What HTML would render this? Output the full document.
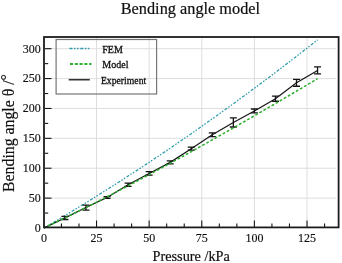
<!DOCTYPE html>
<html><head><meta charset="utf-8"><style>
html,body{margin:0;padding:0;background:#fff;}
svg{display:block;}
text{font-family:"Liberation Serif","Times New Roman",serif;fill:#111;stroke:#111;stroke-width:0.3px;}
.tk{font-size:12px;stroke-width:0.15px;}
.lg{font-size:10px;stroke-width:0.3px;}
.ti{font-size:16.3px;stroke-width:0.2px;}
.al{font-size:14.3px;stroke-width:0.2px;}
.yl{font-size:15.8px;stroke-width:0.2px;}
</style></head><body>
<svg width="342" height="263" viewBox="0 0 342 263">
<line x1="96.53" y1="38" x2="96.53" y2="227" stroke="#dedede" stroke-width="1"/>
<line x1="149.15" y1="38" x2="149.15" y2="227" stroke="#dedede" stroke-width="1"/>
<line x1="201.78" y1="38" x2="201.78" y2="227" stroke="#dedede" stroke-width="1"/>
<line x1="254.40" y1="38" x2="254.40" y2="227" stroke="#dedede" stroke-width="1"/>
<line x1="307.02" y1="38" x2="307.02" y2="227" stroke="#dedede" stroke-width="1"/>
<line x1="45" y1="198.12" x2="336.3" y2="198.12" stroke="#dedede" stroke-width="1"/>
<line x1="45" y1="168.23" x2="336.3" y2="168.23" stroke="#dedede" stroke-width="1"/>
<line x1="45" y1="138.34" x2="336.3" y2="138.34" stroke="#dedede" stroke-width="1"/>
<line x1="45" y1="108.46" x2="336.3" y2="108.46" stroke="#dedede" stroke-width="1"/>
<line x1="45" y1="78.57" x2="336.3" y2="78.57" stroke="#dedede" stroke-width="1"/>
<line x1="45" y1="48.69" x2="336.3" y2="48.69" stroke="#dedede" stroke-width="1"/>
<rect x="56.1" y="39.5" width="100.5" height="54.5" fill="none" stroke="#777" stroke-width="1.2"/>
<polyline points="43.90,228.00 44.95,227.38 46.00,226.77 47.06,226.15 48.11,225.53 49.16,224.91 50.21,224.29 51.27,223.67 52.32,223.05 53.37,222.43 54.42,221.80 55.48,221.18 56.53,220.55 57.58,219.93 58.63,219.30 59.69,218.67 60.74,218.04 61.79,217.41 62.84,216.78 63.90,216.15 64.95,215.52 66.00,214.89 67.06,214.26 68.11,213.62 69.16,212.99 70.21,212.35 71.27,211.71 72.32,211.08 73.37,210.44 74.42,209.80 75.47,209.16 76.53,208.52 77.58,207.87 78.63,207.23 79.69,206.59 80.74,205.94 81.79,205.30 82.84,204.65 83.89,204.01 84.95,203.36 86.00,202.71 87.05,202.06 88.10,201.41 89.16,200.76 90.21,200.11 91.26,199.46 92.31,198.80 93.37,198.15 94.42,197.49 95.47,196.84 96.53,196.18 97.58,195.52 98.63,194.86 99.68,194.20 100.73,193.54 101.79,192.88 102.84,192.22 103.89,191.56 104.94,190.90 106.00,190.23 107.05,189.57 108.10,188.90 109.16,188.23 110.21,187.57 111.26,186.90 112.31,186.23 113.37,185.56 114.42,184.89 115.47,184.22 116.52,183.54 117.57,182.87 118.63,182.20 119.68,181.52 120.73,180.85 121.78,180.17 122.84,179.49 123.89,178.81 124.94,178.13 126.00,177.45 127.05,176.77 128.10,176.09 129.15,175.41 130.20,174.73 131.26,174.04 132.31,173.36 133.36,172.67 134.41,171.98 135.47,171.30 136.52,170.61 137.57,169.92 138.62,169.23 139.68,168.54 140.73,167.85 141.78,167.15 142.84,166.46 143.89,165.77 144.94,165.07 145.99,164.38 147.04,163.68 148.10,162.98 149.15,162.28 150.20,161.58 151.25,160.88 152.31,160.18 153.36,159.48 154.41,158.78 155.47,158.08 156.52,157.37 157.57,156.67 158.62,155.96 159.68,155.25 160.73,154.55 161.78,153.84 162.83,153.13 163.88,152.42 164.94,151.71 165.99,151.00 167.04,150.28 168.09,149.57 169.15,148.86 170.20,148.14 171.25,147.43 172.31,146.71 173.36,145.99 174.41,145.27 175.46,144.56 176.52,143.84 177.57,143.11 178.62,142.39 179.67,141.67 180.72,140.95 181.78,140.22 182.83,139.50 183.88,138.77 184.94,138.05 185.99,137.32 187.04,136.59 188.09,135.86 189.15,135.13 190.20,134.40 191.25,133.67 192.30,132.94 193.36,132.20 194.41,131.47 195.46,130.74 196.51,130.00 197.56,129.26 198.62,128.53 199.67,127.79 200.72,127.05 201.78,126.31 202.83,125.57 203.88,124.83 204.93,124.08 205.99,123.34 207.04,122.60 208.09,121.85 209.14,121.11 210.19,120.36 211.25,119.61 212.30,118.86 213.35,118.12 214.41,117.37 215.46,116.62 216.51,115.86 217.56,115.11 218.62,114.36 219.67,113.60 220.72,112.85 221.77,112.09 222.83,111.34 223.88,110.58 224.93,109.82 225.98,109.06 227.03,108.30 228.09,107.54 229.14,106.78 230.19,106.02 231.25,105.26 232.30,104.49 233.35,103.73 234.40,102.96 235.46,102.20 236.51,101.43 237.56,100.66 238.61,99.89 239.66,99.12 240.72,98.35 241.77,97.58 242.82,96.81 243.88,96.03 244.93,95.26 245.98,94.49 247.03,93.71 248.09,92.93 249.14,92.16 250.19,91.38 251.24,90.60 252.30,89.82 253.35,89.04 254.40,88.26 255.45,87.48 256.50,86.69 257.56,85.91 258.61,85.12 259.66,84.34 260.71,83.55 261.77,82.76 262.82,81.98 263.87,81.19 264.93,80.40 265.98,79.61 267.03,78.82 268.08,78.02 269.13,77.23 270.19,76.44 271.24,75.64 272.29,74.85 273.34,74.05 274.40,73.25 275.45,72.46 276.50,71.66 277.56,70.86 278.61,70.06 279.66,69.26 280.71,68.45 281.76,67.65 282.82,66.85 283.87,66.04 284.92,65.24 285.97,64.43 287.03,63.62 288.08,62.82 289.13,62.01 290.19,61.20 291.24,60.39 292.29,59.57 293.34,58.76 294.39,57.95 295.45,57.14 296.50,56.32 297.55,55.51 298.60,54.69 299.66,53.87 300.71,53.05 301.76,52.24 302.81,51.42 303.87,50.60 304.92,49.77 305.97,48.95 307.02,48.13 308.08,47.31 309.13,46.48 310.18,45.66 311.23,44.83 312.29,44.00 313.34,43.17 314.39,42.35 315.44,41.52 316.50,40.69 317.55,39.85" fill="none" stroke="#2a9aaa" stroke-width="1.25" stroke-dasharray="3 1.5 1.5 1.5 1.5 1.8"/>
<polyline points="43.90,228.00 64.95,217.90 86.00,207.56 107.05,197.52 128.10,184.67 149.15,173.43 170.20,162.37 191.25,148.69 212.30,134.70 233.35,122.45 254.40,110.91 275.45,98.66 296.50,82.76 317.55,70.45" fill="none" stroke="#151515" stroke-width="1.2"/>
<path d="M64.95 216.29V219.51M61.45 216.29h7M61.45 219.51h7" stroke="#151515" stroke-width="1.3" fill="none"/>
<path d="M86.00 205.05V210.07M82.50 205.05h7M82.50 210.07h7" stroke="#151515" stroke-width="1.3" fill="none"/>
<path d="M107.05 196.62V198.41M103.55 196.62h7M103.55 198.41h7" stroke="#151515" stroke-width="1.3" fill="none"/>
<path d="M128.10 183.05V186.28M124.60 183.05h7M124.60 186.28h7" stroke="#151515" stroke-width="1.3" fill="none"/>
<path d="M149.15 171.64V175.22M145.65 171.64h7M145.65 175.22h7" stroke="#151515" stroke-width="1.3" fill="none"/>
<path d="M170.20 160.82V163.93M166.70 160.82h7M166.70 163.93h7" stroke="#151515" stroke-width="1.3" fill="none"/>
<path d="M191.25 147.19V150.18M187.75 147.19h7M187.75 150.18h7" stroke="#151515" stroke-width="1.3" fill="none"/>
<path d="M212.30 132.79V136.61M208.80 132.79h7M208.80 136.61h7" stroke="#151515" stroke-width="1.3" fill="none"/>
<path d="M233.35 117.90V126.99M229.85 117.90h7M229.85 126.99h7" stroke="#151515" stroke-width="1.3" fill="none"/>
<path d="M254.40 109.00V112.82M250.90 109.00h7M250.90 112.82h7" stroke="#151515" stroke-width="1.3" fill="none"/>
<path d="M275.45 96.09V101.23M271.95 96.09h7M271.95 101.23h7" stroke="#151515" stroke-width="1.3" fill="none"/>
<path d="M296.50 79.29V86.23M293.00 79.29h7M293.00 86.23h7" stroke="#151515" stroke-width="1.3" fill="none"/>
<path d="M317.55 66.92V73.97M314.05 66.92h7M314.05 73.97h7" stroke="#151515" stroke-width="1.3" fill="none"/>
<polyline points="43.90,228.00 44.95,227.50 46.00,227.00 47.06,226.50 48.11,226.00 49.16,225.49 50.21,224.99 51.27,224.49 52.32,223.98 53.37,223.48 54.42,222.97 55.48,222.46 56.53,221.95 57.58,221.45 58.63,220.94 59.69,220.43 60.74,219.91 61.79,219.40 62.84,218.89 63.90,218.38 64.95,217.86 66.00,217.35 67.06,216.84 68.11,216.32 69.16,215.80 70.21,215.29 71.27,214.77 72.32,214.25 73.37,213.73 74.42,213.21 75.47,212.69 76.53,212.17 77.58,211.65 78.63,211.12 79.69,210.60 80.74,210.07 81.79,209.55 82.84,209.02 83.89,208.50 84.95,207.97 86.00,207.44 87.05,206.92 88.10,206.39 89.16,205.86 90.21,205.33 91.26,204.80 92.31,204.26 93.37,203.73 94.42,203.20 95.47,202.67 96.53,202.13 97.58,201.60 98.63,201.06 99.68,200.53 100.73,199.99 101.79,199.45 102.84,198.91 103.89,198.37 104.94,197.84 106.00,197.30 107.05,196.75 108.10,196.21 109.16,195.67 110.21,195.13 111.26,194.59 112.31,194.04 113.37,193.50 114.42,192.95 115.47,192.41 116.52,191.86 117.57,191.31 118.63,190.77 119.68,190.22 120.73,189.67 121.78,189.12 122.84,188.57 123.89,188.02 124.94,187.47 126.00,186.92 127.05,186.37 128.10,185.81 129.15,185.26 130.20,184.71 131.26,184.15 132.31,183.60 133.36,183.04 134.41,182.48 135.47,181.93 136.52,181.37 137.57,180.81 138.62,180.25 139.68,179.69 140.73,179.13 141.78,178.57 142.84,178.01 143.89,177.45 144.94,176.89 145.99,176.33 147.04,175.76 148.10,175.20 149.15,174.64 150.20,174.07 151.25,173.50 152.31,172.94 153.36,172.37 154.41,171.81 155.47,171.24 156.52,170.67 157.57,170.10 158.62,169.53 159.68,168.96 160.73,168.39 161.78,167.82 162.83,167.25 163.88,166.68 164.94,166.11 165.99,165.53 167.04,164.96 168.09,164.39 169.15,163.81 170.20,163.24 171.25,162.66 172.31,162.09 173.36,161.51 174.41,160.93 175.46,160.36 176.52,159.78 177.57,159.20 178.62,158.62 179.67,158.04 180.72,157.46 181.78,156.88 182.83,156.30 183.88,155.72 184.94,155.14 185.99,154.55 187.04,153.97 188.09,153.39 189.15,152.80 190.20,152.22 191.25,151.64 192.30,151.05 193.36,150.46 194.41,149.88 195.46,149.29 196.51,148.70 197.56,148.12 198.62,147.53 199.67,146.94 200.72,146.35 201.78,145.76 202.83,145.17 203.88,144.58 204.93,143.99 205.99,143.40 207.04,142.81 208.09,142.22 209.14,141.63 210.19,141.03 211.25,140.44 212.30,139.85 213.35,139.25 214.41,138.66 215.46,138.06 216.51,137.47 217.56,136.87 218.62,136.28 219.67,135.68 220.72,135.08 221.77,134.48 222.83,133.89 223.88,133.29 224.93,132.69 225.98,132.09 227.03,131.49 228.09,130.89 229.14,130.29 230.19,129.69 231.25,129.09 232.30,128.49 233.35,127.89 234.40,127.28 235.46,126.68 236.51,126.08 237.56,125.47 238.61,124.87 239.66,124.27 240.72,123.66 241.77,123.06 242.82,122.45 243.88,121.85 244.93,121.24 245.98,120.63 247.03,120.03 248.09,119.42 249.14,118.81 250.19,118.20 251.24,117.60 252.30,116.99 253.35,116.38 254.40,115.77 255.45,115.16 256.50,114.55 257.56,113.94 258.61,113.33 259.66,112.72 260.71,112.11 261.77,111.50 262.82,110.88 263.87,110.27 264.93,109.66 265.98,109.05 267.03,108.43 268.08,107.82 269.13,107.21 270.19,106.59 271.24,105.98 272.29,105.36 273.34,104.75 274.40,104.13 275.45,103.52 276.50,102.90 277.56,102.28 278.61,101.67 279.66,101.05 280.71,100.43 281.76,99.81 282.82,99.20 283.87,98.58 284.92,97.96 285.97,97.34 287.03,96.72 288.08,96.10 289.13,95.48 290.19,94.86 291.24,94.24 292.29,93.62 293.34,93.00 294.39,92.38 295.45,91.76 296.50,91.14 297.55,90.52 298.60,89.89 299.66,89.27 300.71,88.65 301.76,88.03 302.81,87.40 303.87,86.78 304.92,86.16 305.97,85.53 307.02,84.91 308.08,84.28 309.13,83.66 310.18,83.04 311.23,82.41 312.29,81.79 313.34,81.16 314.39,80.53 315.44,79.91 316.50,79.28 317.55,78.66" fill="none" stroke="#2db02d" stroke-width="1.5" stroke-dasharray="2.8 1.9"/>
<line x1="69.5" y1="48.5" x2="91" y2="48.5" stroke="#2a9aaa" stroke-width="1.4" stroke-dasharray="3 1.5 1.5 1.5 1.5 1.8"/>
<line x1="70" y1="64" x2="91.5" y2="64" stroke="#2db02d" stroke-width="1.8" stroke-dasharray="3 1.8"/>
<line x1="68.7" y1="79.7" x2="89.8" y2="79.7" stroke="#333" stroke-width="1.6"/>
<text x="102.3" y="52.8" class="lg">FEM</text>
<text x="102.3" y="67.8" class="lg">Model</text>
<text x="100.9" y="83.5" class="lg" textLength="45.3" lengthAdjust="spacingAndGlyphs">Experiment</text>
<line x1="61.44" y1="227" x2="61.44" y2="223.5" stroke="#151515" stroke-width="1.1"/>
<line x1="78.98" y1="227" x2="78.98" y2="223.5" stroke="#151515" stroke-width="1.1"/>
<line x1="96.53" y1="227" x2="96.53" y2="220.5" stroke="#151515" stroke-width="1.1"/>
<line x1="114.07" y1="227" x2="114.07" y2="223.5" stroke="#151515" stroke-width="1.1"/>
<line x1="131.61" y1="227" x2="131.61" y2="223.5" stroke="#151515" stroke-width="1.1"/>
<line x1="149.15" y1="227" x2="149.15" y2="220.5" stroke="#151515" stroke-width="1.1"/>
<line x1="166.69" y1="227" x2="166.69" y2="223.5" stroke="#151515" stroke-width="1.1"/>
<line x1="184.23" y1="227" x2="184.23" y2="223.5" stroke="#151515" stroke-width="1.1"/>
<line x1="201.78" y1="227" x2="201.78" y2="220.5" stroke="#151515" stroke-width="1.1"/>
<line x1="219.32" y1="227" x2="219.32" y2="223.5" stroke="#151515" stroke-width="1.1"/>
<line x1="236.86" y1="227" x2="236.86" y2="223.5" stroke="#151515" stroke-width="1.1"/>
<line x1="254.40" y1="227" x2="254.40" y2="220.5" stroke="#151515" stroke-width="1.1"/>
<line x1="271.94" y1="227" x2="271.94" y2="223.5" stroke="#151515" stroke-width="1.1"/>
<line x1="289.48" y1="227" x2="289.48" y2="223.5" stroke="#151515" stroke-width="1.1"/>
<line x1="307.02" y1="227" x2="307.02" y2="220.5" stroke="#151515" stroke-width="1.1"/>
<line x1="324.57" y1="227" x2="324.57" y2="223.5" stroke="#151515" stroke-width="1.1"/>
<line x1="45" y1="213.06" x2="48.2" y2="213.06" stroke="#151515" stroke-width="1.1"/>
<line x1="45" y1="198.12" x2="51.5" y2="198.12" stroke="#151515" stroke-width="1.1"/>
<line x1="45" y1="183.17" x2="48.2" y2="183.17" stroke="#151515" stroke-width="1.1"/>
<line x1="45" y1="168.23" x2="51.5" y2="168.23" stroke="#151515" stroke-width="1.1"/>
<line x1="45" y1="153.29" x2="48.2" y2="153.29" stroke="#151515" stroke-width="1.1"/>
<line x1="45" y1="138.34" x2="51.5" y2="138.34" stroke="#151515" stroke-width="1.1"/>
<line x1="45" y1="123.40" x2="48.2" y2="123.40" stroke="#151515" stroke-width="1.1"/>
<line x1="45" y1="108.46" x2="51.5" y2="108.46" stroke="#151515" stroke-width="1.1"/>
<line x1="45" y1="93.52" x2="48.2" y2="93.52" stroke="#151515" stroke-width="1.1"/>
<line x1="45" y1="78.57" x2="51.5" y2="78.57" stroke="#151515" stroke-width="1.1"/>
<line x1="45" y1="63.63" x2="48.2" y2="63.63" stroke="#151515" stroke-width="1.1"/>
<line x1="45" y1="48.69" x2="51.5" y2="48.69" stroke="#151515" stroke-width="1.1"/>
<rect x="44" y="37" width="294.6" height="190.4" fill="none" stroke="#1c1c1c" stroke-width="1.8"/>
<text transform="translate(40.8,231.90) scale(1,1.1)" class="tk" text-anchor="end">0</text>
<text transform="translate(40.8,202.02) scale(1,1.1)" class="tk" text-anchor="end">50</text>
<text transform="translate(40.8,172.13) scale(1,1.1)" class="tk" text-anchor="end">100</text>
<text transform="translate(40.8,142.25) scale(1,1.1)" class="tk" text-anchor="end">150</text>
<text transform="translate(40.8,112.36) scale(1,1.1)" class="tk" text-anchor="end">200</text>
<text transform="translate(40.8,82.47) scale(1,1.1)" class="tk" text-anchor="end">250</text>
<text transform="translate(40.8,52.59) scale(1,1.1)" class="tk" text-anchor="end">300</text>
<text transform="translate(43.90,242.1) scale(1,1.1)" class="tk" text-anchor="middle">0</text>
<text transform="translate(96.53,242.1) scale(1,1.1)" class="tk" text-anchor="middle">25</text>
<text transform="translate(149.15,242.1) scale(1,1.1)" class="tk" text-anchor="middle">50</text>
<text transform="translate(201.78,242.1) scale(1,1.1)" class="tk" text-anchor="middle">75</text>
<text transform="translate(254.40,242.1) scale(1,1.1)" class="tk" text-anchor="middle">100</text>
<text transform="translate(307.02,242.1) scale(1,1.1)" class="tk" text-anchor="middle">125</text>
<text transform="translate(190.4,14.4) scale(1,1.05)" class="ti" text-anchor="middle">Bending angle model</text>
<text x="191.2" y="261" class="al" text-anchor="middle">Pressure /kPa</text>
<text transform="translate(14,133) rotate(-90)" class="yl" text-anchor="middle">Bending angle θ /<tspan dy="-2.5">°</tspan></text>
</svg>
</body></html>
